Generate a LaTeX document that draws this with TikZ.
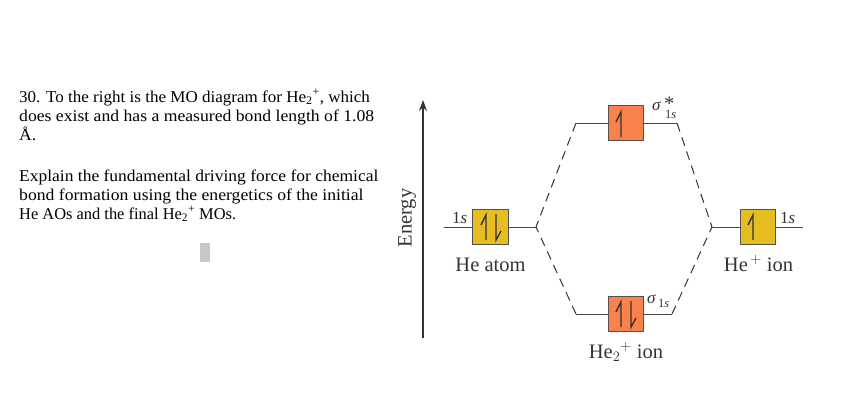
\documentclass[tikz,border=0pt]{standalone}
\usepackage{fontspec}
\usepackage{graphicx}
\setmainfont{Liberation Serif}
\newfontfamily\qfont[FakeStretch=1.07]{Liberation Serif}
\usetikzlibrary{arrows.meta}
\definecolor{orb}{HTML}{F9824C}
\definecolor{yel}{HTML}{E6BE24}
\definecolor{ink}{HTML}{333333}
\tikzset{
  orbital/.style={draw=ink!85,line width=1.2pt,minimum size=35.5pt,inner sep=0pt,outer sep=0pt},
  level/.style={draw=ink!90,line width=1pt},
  corr/.style={draw=ink,line width=1pt,dash pattern=on 9pt off 6pt},
  spin/.style={draw=ink,line width=1.4pt,line join=miter},
  lab/.style={text=ink,font=\fontsize{20.5}{24}\selectfont,inner sep=0pt},
  small/.style={text=ink,font=\fontsize{17}{20}\selectfont,inner sep=0pt},
  sub/.style={text=ink,font=\fontsize{12.5}{14}\selectfont,inner sep=0pt},
  q/.style={anchor=base west,inner sep=0pt,text=black,font=\qfont\fontsize{16.5}{18}\selectfont},
}
\newcommand{\spinup}[2]{\draw[spin] (#1-5,#2-3) -- (#1,#2-13) -- (#1,#2+12);}
\newcommand{\spindown}[2]{\draw[spin] (#1,#2-13) -- (#1,#2+13) -- (#1+5,#2+4);}
\newcommand{\hetwo}{He\textsubscript{2}\textsuperscript{+}}
\begin{document}
\begin{tikzpicture}[x=1pt,y=-1pt]
\useasboundingbox (0,0) rectangle (859,410);
% question text
\node[q] (t1) at (19,102) {\scalebox{0.965}[1]{30. To the right is the MO diagram for \hetwo, which}};
\node[q] (t2) at (19,121) {does exist and has a measured bond length of 1.08};
\node[q] (t3) at (19,140) {Å.};
\node[q] (t4) at (19,181) {\scalebox{0.99}[1]{Explain the fundamental driving force for chemical}};
\node[q] (t5) at (19,200) {bond formation using the energetics of the initial};
\node[q] (t6) at (19,219) {\scalebox{0.93}[1]{He AOs and the final \hetwo\ MOs.}};
\fill[black!22] (200,243) rectangle (210,262);
% energy axis
\coordinate (ea) at (423,338);
\coordinate (eb) at (423,100);
\draw[draw=ink,line width=1.2pt,-{Stealth[length=11pt,width=8pt]}] (ea) -- (eb);
\node[lab,rotate=90] (en) at (407,218) {Energy};
% orbitals
\node[orbital,fill=yel] (la) at (490.5,227) {};
\node[orbital,fill=yel] (ra) at (758,227) {};
\node[orbital,fill=orb] (st) at (626,123) {};
\node[orbital,fill=orb] (bd) at (626,314) {};
% levels
\coordinate (l0) at (444,227);
\coordinate (l1) at (536,227);
\coordinate (r0) at (803,227);
\coordinate (r1) at (712,227);
\coordinate (s0) at (576,123);
\coordinate (s1) at (677,123);
\coordinate (b0) at (576,314);
\coordinate (b1) at (672,314);
\draw[level] (l0) -- (la);
\draw[level] (la) -- (l1);
\draw[level] (ra) -- (r0);
\draw[level] (r1) -- (ra);
\draw[level] (s0) -- (st);
\draw[level] (st) -- (s1);
\draw[level] (b0) -- (bd);
\draw[level] (bd) -- (b1);
% correlation lines
\draw[corr] (s0) -- (l1);
\draw[corr] (b0) -- (l1);
\draw[corr] (s1) -- (r1);
\draw[corr] (b1) -- (r1);
% spins
\spinup{486}{228}\spindown{496}{227}
\spinup{621}{125}
\spinup{753}{228}
\spinup{621}{315}\spindown{631}{314}
% labels
\node[small,anchor=base west] (s1l) at (452,223) {1\textit{s}};
\node[small,anchor=base west] (s1r) at (780,223) {1\textit{s}};
\node[lab,anchor=base] (he) at (490.5,271) {He atom};
\node[lab,anchor=base] (hep) at (758.5,271) {He$^{\,+}$ ion};
\node[lab,anchor=base] (he2) at (626,358) {He$_2{}^{+}$ ion};
\node[small,anchor=base west] (sg) at (647,303) {\textit{σ}};
\node[sub,anchor=base west] (sgs) at (658,307) {1\textit{s}};
\node[small,anchor=base west] (ss) at (652,110) {\textit{σ}};
\node[sub,anchor=base west] (ss1) at (665,118) {1\textit{s}};
\node[lab,anchor=base west] (ss2) at (664,110) {*};
\end{tikzpicture}
\end{document}
